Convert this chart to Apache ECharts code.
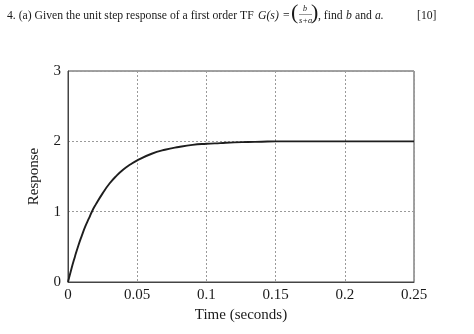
<!DOCTYPE html>
<html>
<head>
<meta charset="utf-8">
<script src="https://cdn.jsdelivr.net/npm/echarts@6/dist/echarts.min.js"></script>
<style>
  html, body { margin: 0; padding: 0; background: #fff; }
  #chart { width: 474px; height: 334px; }
</style>
</head>
<body>
<div id="chart"></div>
<script>
// Step response samples: time (s) and response value
const timeValues = [0, 0.0025, 0.005, 0.0075, 0.01, 0.0125, 0.015, 0.0175, 0.02, 0.025, 0.03, 0.035, 0.04, 0.045, 0.05, 0.06, 0.07, 0.08, 0.09, 0.1, 0.11, 0.12, 0.13, 0.14, 0.15, 0.2, 0.25];
const responseValues = [0, 0.19, 0.36, 0.52, 0.66, 0.79, 0.90, 1.01, 1.10, 1.26, 1.40, 1.51, 1.60, 1.67, 1.73, 1.82, 1.88, 1.92, 1.95, 1.965, 1.975, 1.985, 1.99, 1.995, 2.0, 2.0, 2.0];
const xTickLabels = ['0', '0.05', '0.1', '0.15', '0.2', '0.25'];
const yTickLabels = ['0', '1', '2', '3'];

const serif = '"Liberation Serif", "DejaVu Serif", serif';
const ink = '#1a1a1a';
const titleFont = '11.7px ' + serif;
const titleItalic = 'italic 11.7px ' + serif;

const chart = echarts.init(document.getElementById('chart'), null, { renderer: 'canvas' });

const seriesData = timeValues.map((t, i) => [t, responseValues[i]]);

chart.setOption({
  backgroundColor: '#fff',
  animation: false,
  grid: {
    left: 68, right: 60, top: 71, bottom: 52,
    show: true, borderColor: '#444', borderWidth: 1, backgroundColor: 'transparent'
  },
  xAxis: {
    type: 'value', min: 0, max: 0.25, interval: 0.05,
    name: 'Time (seconds)', nameLocation: 'middle', nameGap: 25,
    nameTextStyle: { fontFamily: serif, fontSize: 15, color: ink },
    axisLine: { show: true, lineStyle: { color: '#444', width: 1 } },
    axisTick: { show: false },
    axisLabel: {
      margin: 6, fontFamily: serif, fontSize: 15, color: ink,
      formatter: (v) => xTickLabels[Math.round(v / 0.05)]
    },
    splitLine: { show: true, lineStyle: { type: [2, 2], color: '#9a9a9a', width: 1 } }
  },
  yAxis: {
    type: 'value', min: 0, max: 3, interval: 1,
    name: 'Response', nameLocation: 'middle', nameGap: 26, nameRotate: 90,
    nameTextStyle: { fontFamily: serif, fontSize: 15, color: ink },
    axisLine: { show: true, lineStyle: { color: '#444', width: 1 } },
    axisTick: { show: false },
    axisLabel: {
      margin: 7, fontFamily: serif, fontSize: 15, color: ink,
      formatter: (v) => yTickLabels[Math.round(v)]
    },
    splitLine: { show: true, lineStyle: { type: [2, 2], color: '#9a9a9a', width: 1 } }
  },
  series: [{
    type: 'line',
    data: seriesData,
    smooth: true,
    showSymbol: false,
    lineStyle: { color: '#1e1e1e', width: 1.9 }
  }],
  graphic: [
    { type: 'text', left: 7, top: 10, style: { text: '4. (a) Given the unit step response of a first order TF', font: titleFont, fill: ink } },
    { type: 'text', left: 258, top: 10, style: { text: 'G(s)', font: titleItalic, fill: ink } },
    { type: 'text', left: 283, top: 10, style: { text: '=', font: titleFont, fill: ink } },
    { type: 'text', left: 291, top: 2, style: { text: '(', font: '22px ' + serif, fill: ink } },
    { type: 'text', left: 303, top: 5, style: { text: 'b', font: 'italic 8px ' + serif, fill: ink } },
    { type: 'line', shape: { x1: 299, y1: 14.5, x2: 312, y2: 14.5 }, style: { stroke: '#555', lineWidth: 0.6 } },
    { type: 'text', left: 299, top: 16, style: { text: 's+a', font: 'italic 8.5px ' + serif, fill: ink } },
    { type: 'text', left: 311, top: 2, style: { text: ')', font: '22px ' + serif, fill: ink } },
    { type: 'text', left: 318, top: 10, style: { text: ', find', font: titleFont, fill: ink } },
    { type: 'text', left: 346, top: 10, style: { text: 'b', font: titleItalic, fill: ink } },
    { type: 'text', left: 355, top: 10, style: { text: 'and', font: titleFont, fill: ink } },
    { type: 'text', left: 375, top: 10, style: { text: 'a.', font: titleItalic, fill: ink } },
    { type: 'text', left: 417, top: 10, style: { text: '[10]', font: titleFont, fill: ink } }
  ]
});
</script>
</body>
</html>
